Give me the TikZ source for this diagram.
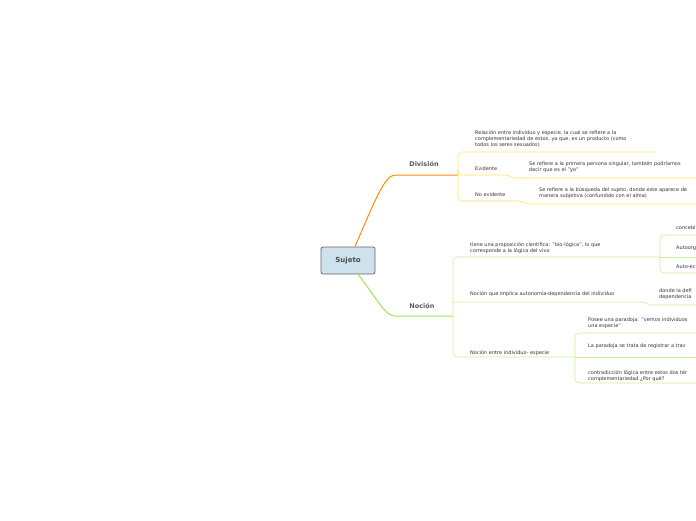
\documentclass[tikz,border=0pt]{standalone}
\usepackage{fontspec}
\setmainfont{DejaVu Sans}
\definecolor{boxfill}{HTML}{CDE2EC}
\definecolor{grn}{HTML}{9BE84A}
\definecolor{grnl}{HTML}{C8F09A}
\begin{document}
\begin{tikzpicture}[x=1pt,y=-1pt,
 txt/.style={anchor=west,inner sep=0pt,font=\fontsize{5}{6.3}\selectfont,text=black!80,align=left},
 hd/.style={inner sep=0pt,font=\fontsize{6.5}{8}\selectfont\bfseries,text=black!65},
 ob/.style={draw=orange!90!yellow,line width=1pt},
 ol/.style={draw=orange!35!yellow!60,line width=0.6pt,rounded corners=4pt},
 gb/.style={draw=grn,line width=1pt},
 gl/.style={draw=grnl,line width=0.6pt,rounded corners=4pt}]
\useasboundingbox (0,0) rectangle (696,520);
\clip (0,0) rectangle (696,520);
\node[draw=black!60,fill=boxfill,rounded corners=2pt,line width=0.8pt,minimum width=54pt,minimum height=27pt,font=\fontsize{7}{8}\selectfont\bfseries,text=black!70] (s) at (348,260.5) {Sujeto};
% Division
\coordinate (d0) at (395,175);
\coordinate (d1) at (458,175);
\draw[ob] (s.north) ++(7,0) .. controls (375,200) and (385,175) .. (d0) -- (d1);
\node[hd] (dv) at (424,164) {División};
\draw[ol] (d1) |- (654,152);
\draw[ol] (d1) |- (513,201) -- (523,201) .. controls (527,204) .. (535,204) -- (696,204);
\draw[ol] (d1) -- (458,175) -- (509,175) .. controls (513,178) .. (520,178) -- (696,178);
\node[txt] (t1) at (475,139) {Relación entre individuo y especie, la cual se refiere a la\\complementariedad de estos, ya que, es un producto (como\\todos los seres sexuados)};
\node[txt] (t2) at (475,169) {Evidente};
\node[txt] (t3) at (529,167) {Se refiere a la primera persona singular, también podríamos\\decir que es el "yo"};
\node[txt] (t4) at (475,195) {No evidente};
\node[txt] (t5) at (539,193) {Se refiere a la búsqueda del sujeto, donde este aparece de\\manera subjetiva (confundido con el alma)};
% Nocion
\coordinate (n0) at (395,316);
\coordinate (n1) at (453,316);
\draw[gb] (s.south) ++(10,0) .. controls (378,300) and (385,316) .. (n0) -- (n1);
\node[hd] (nc) at (422,306) {Noción};
\draw[gl] (n1) |- (660,257);
\draw[gl] (n1) |- (575,357);
\draw[gl] (453,302) -- (645,302) .. controls (650,305) .. (658,305) -- (696,305);
\draw[gl] (660,257) |- (696,235);
\draw[gl] (660,257) |- (696,273);
\draw[gl] (660,257) -- (696,257);
\draw[gl] (575,357) |- (696,333);
\draw[gl] (575,357) |- (696,383);
\draw[gl] (575,357) -- (696,357);
\node[txt] (u1) at (470,248) {tiene una proposición científica: "bio-lógica", lo que\\corresponde a la lógica del vivo};
\node[txt] (u2) at (676,228) {concebi};
\node[txt] (u3) at (676,248) {Autoorg};
\node[txt] (u4) at (676,267) {Auto-ec};
\node[txt] (u5) at (470,294) {Noción que implica autonomía-dependencia del individuo};
\node[txt] (u6) at (659,294) {donde la defi\\dependencia};
\node[txt] (u7) at (470,353) {Noción entre individuo- especie};
\node[txt] (u8) at (588,323) {Posee una paradoja: "vemos individuos\\una especie"};
\node[txt] (u9) at (588,346) {La paradoja se trata de registrar a trav};
\node[txt] (u10) at (588,376) {contradicción lógica entre estos dos tér\\complementariedad ¿Por qué?};
\end{tikzpicture}
\end{document}
